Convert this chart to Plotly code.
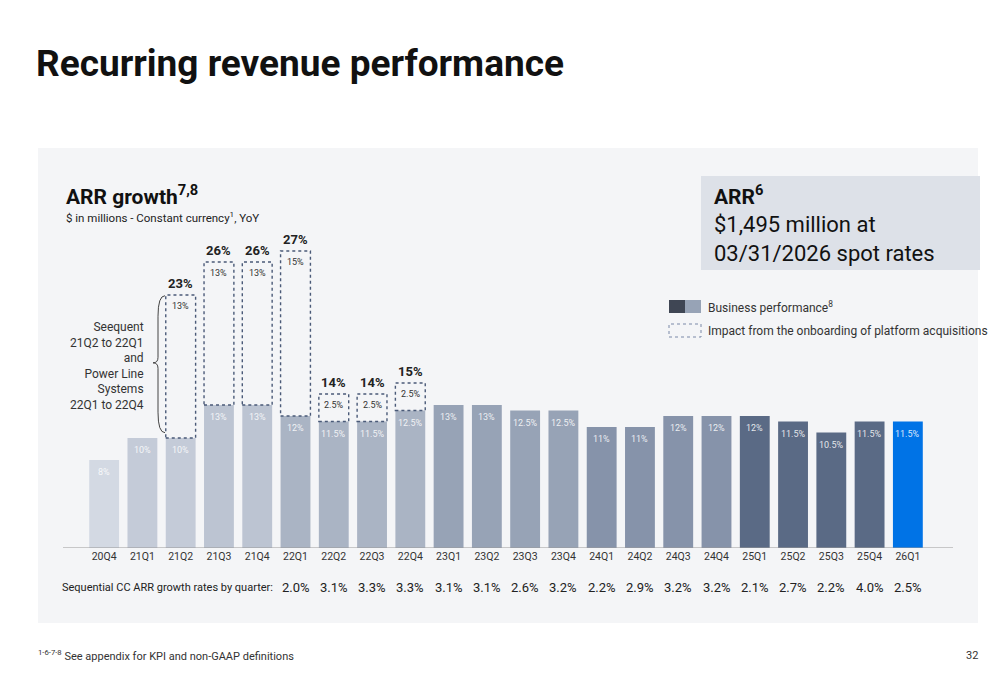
import plotly.graph_objects as go

# ARR growth data
quarters = ["20Q4", "21Q1", "21Q2", "21Q3", "21Q4", "22Q1", "22Q2", "22Q3", "22Q4",
            "23Q1", "23Q2", "23Q3", "23Q4", "24Q1", "24Q2", "24Q3", "24Q4",
            "25Q1", "25Q2", "25Q3", "25Q4", "26Q1"]
business = [8, 10, 10, 13, 13, 12, 11.5, 11.5, 12.5, 13, 13, 12.5, 12.5,
            11, 11, 12, 12, 12, 11.5, 10.5, 11.5, 11.5]
acquisition = [0, 0, 13, 13, 13, 15, 2.5, 2.5, 2.5, 0, 0, 0, 0,
               0, 0, 0, 0, 0, 0, 0, 0, 0]
sequential = ["2.0%", "3.1%", "3.3%", "3.3%", "3.1%", "3.1%", "2.6%", "3.2%", "2.2%",
              "2.9%", "3.2%", "3.2%", "2.1%", "2.7%", "2.2%", "4.0%", "2.5%"]
seq_start = 5  # sequential rates start at 22Q1

bar_colors = (["#d3d9e3"] + ["#c4cbd8"] * 2 + ["#bcc4d2"] * 2 + ["#aab4c4"] * 4
              + ["#97a3b6"] * 4 + ["#8693aa"] * 4 + ["#5a6a85"] * 4 + ["#0073e6"])

FONT = "Roboto"
x = list(range(len(quarters)))


def fmt(v):
    return f"{v:g}%"


fig = go.Figure()
fig.add_trace(go.Bar(
    x=x, y=business, marker=dict(color=bar_colors, line=dict(width=0)), width=0.78,
    hoverinfo="skip", cliponaxis=False,
))

shapes = []
annotations = []
for i, (b, a) in enumerate(zip(business, acquisition)):
    annotations.append(dict(x=i, y=b, xref="x", yref="y", text=fmt(b), showarrow=False,
                            yanchor="top", yshift=-5,
                            font=dict(size=9, color="rgba(255,255,255,0.85)", family=FONT)))
    if a > 0:
        shapes.append(dict(type="rect", xref="x", yref="y", x0=i - 0.39, x1=i + 0.39,
                           y0=b, y1=b + a, line=dict(color="#4a5a78", width=1.4, dash="dot"),
                           fillcolor="rgba(0,0,0,0)"))
        annotations.append(dict(x=i, y=b + a, xref="x", yref="y", text=fmt(a), showarrow=False,
                                yanchor="top", yshift=-4, font=dict(size=9, color="#333", family=FONT)))
        annotations.append(dict(x=i, y=b + a, xref="x", yref="y", text=f"<b>{fmt(b + a)}</b>",
                                showarrow=False, yanchor="bottom", yshift=2,
                                font=dict(size=13, color="#222", family=FONT)))

for j, s in enumerate(sequential):
    annotations.append(dict(x=seq_start + j, y=1 - 579 / 685, xref="x", yref="paper", text=s,
                            showarrow=False, yanchor="middle",
                            font=dict(size=13, color="#222", family=FONT)))

# panels
shapes = [
    dict(type="rect", xref="paper", yref="paper", x0=0.03, x1=0.97, y0=1 - 615 / 685, y1=1 - 140 / 685,
         fillcolor="#f4f5f7", line=dict(width=0), layer="below"),
    dict(type="rect", xref="paper", yref="paper", x0=0.693, x1=0.972, y0=1 - 262 / 685, y1=1 - 168 / 685,
         fillcolor="#dde1e8", line=dict(width=0), layer="below"),
    dict(type="line", xref="paper", yref="y", x0=0.055, x1=0.945, y0=0, y1=0,
         line=dict(color="#999", width=1.2)),
    # legend swatches
    dict(type="rect", xref="paper", yref="paper", x0=0.661, x1=0.677, y0=1 - 305 / 685, y1=1 - 292 / 685,
         fillcolor="#3f4654", line=dict(width=0)),
    dict(type="rect", xref="paper", yref="paper", x0=0.677, x1=0.693, y0=1 - 305 / 685, y1=1 - 292 / 685,
         fillcolor="#97a3b6", line=dict(width=0)),
    dict(type="rect", xref="paper", yref="paper", x0=0.661, x1=0.693, y0=1 - 329 / 685, y1=1 - 316 / 685,
         fillcolor="rgba(0,0,0,0)", line=dict(color="#7a89a8", width=1, dash="dot")),
    # brace
    dict(type="path", xref="paper", yref="paper",
         path="M 0.157,0.58 Q 0.150,0.58 0.150,0.55 L 0.150,0.49 Q 0.150,0.482 0.145,0.482 "
              "Q 0.150,0.482 0.150,0.474 L 0.150,0.41 Q 0.150,0.38 0.157,0.38",
         line=dict(color="#444", width=1)),
] + shapes


def ptxt(xp, yp, text, size, color="#222", anchor="left", yanchor="middle"):
    annotations.append(dict(x=xp / 1000, y=1 - yp / 685, xref="paper", yref="paper", text=text,
                            showarrow=False, xanchor=anchor, yanchor=yanchor, align=anchor,
                            font=dict(size=size, color=color, family=FONT)))


ptxt(26, 55, "<b>Recurring revenue performance</b>", 37, "#111")
ptxt(56, 187, "<b>ARR growth</b><sup><b>7,8</b></sup>", 21, "#111")
ptxt(56, 209, "$ in millions - Constant currency<sup>1</sup>, YoY", 11.5, "#222")
ptxt(704, 187, "<b>ARR</b><sup><b>6</b></sup>", 21, "#111")
ptxt(704, 216, "$1,495 million at", 22, "#111")
ptxt(704, 245, "03/31/2026 spot rates", 22, "#111")
ptxt(698, 299, "Business performance<sup>8</sup>", 12, "#333")
ptxt(698, 323, "Impact from the onboarding of platform acquisitions", 12, "#333")
ptxt(138, 358, "Seequent<br>21Q2 to 22Q1<br>and<br>Power Line<br>Systems<br>22Q1 to 22Q4", 12, "#333",
     anchor="right")
ptxt(52, 579, "Sequential CC ARR growth rates by quarter:", 11, "#222")
ptxt(28, 647, "<sup>1-6-7-8</sup> See appendix for KPI and non-GAAP definitions", 11, "#333")
ptxt(972, 647, "32", 11, "#333", anchor="right")

fig.update_layout(
    width=1000, height=685, margin=dict(l=0, r=0, t=0, b=0),
    paper_bgcolor="white", plot_bgcolor="rgba(0,0,0,0)",
    showlegend=False, shapes=shapes, annotations=annotations, bargap=0.2,
    font=dict(family=FONT),
    xaxis=dict(domain=[77 / 1000, 919 / 1000], range=[-0.5, len(quarters) - 0.5],
               tickvals=x, ticktext=quarters, showgrid=False, zeroline=False,
               tickfont=dict(size=10.5, color="#333"), ticks="", showline=False),
    yaxis=dict(domain=[1 - 540 / 685, 1 - 200 / 685], range=[0, 340 / 11], visible=False),
)

fig.write_html("out.html")
